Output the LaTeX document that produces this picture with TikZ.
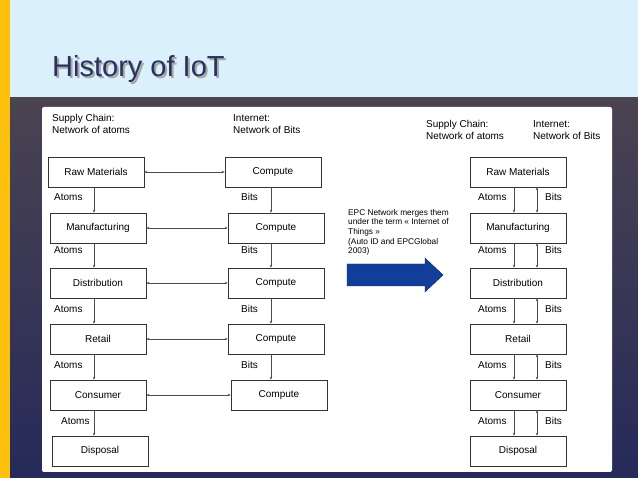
\documentclass[tikz,border=0pt]{standalone}
\usepackage{fontspec}
\setmainfont{Liberation Sans}
\usetikzlibrary{arrows.meta}
\definecolor{hdr}{HTML}{DAF1FB}
\definecolor{orng}{HTML}{FDC00C}
\definecolor{dk1}{HTML}{4A4350}
\definecolor{dk2}{HTML}{262A5A}
\definecolor{ttl}{HTML}{2A3160}
\definecolor{arr}{HTML}{123E9A}
\tikzset{
 box/.style={draw=black!80,line width=0.6pt,fill=white,minimum width=96pt,minimum height=30pt,font=\fontsize{10}{12}\selectfont,inner sep=0pt},
 lbl/.style={font=\fontsize{10}{12}\selectfont,inner sep=0pt,anchor=west},
 hd/.style={font=\fontsize{10}{12}\selectfont,inner sep=0pt,anchor=north west,align=left},
 ln/.style={draw=black!70,line width=0.5pt,-{Stealth[length=3pt,width=2.5pt]}},
 bi/.style={draw=black!70,line width=0.5pt,{Stealth[length=3pt,width=2.5pt]}-{Stealth[length=3pt,width=2.5pt]}}
}
\begin{document}
\begin{tikzpicture}[x=1pt,y=-1pt]
\useasboundingbox (0,0) rectangle (638,478);
\fill[hdr] (0,0) rectangle (638,98);
\shade[top color=dk1,bottom color=dk2] (0,98) rectangle (638,478);
\fill[orng] (0,0) rectangle (10,478);
\node (title)[anchor=west,font=\fontsize{29}{32}\selectfont,text=ttl,inner sep=0] at (52,70)
 {\rlap{\hspace{2pt}\raisebox{-2pt}{\textcolor{gray!70}{History of IoT}}}History of IoT};
\fill[white,rounded corners=2pt] (42,107) rectangle (612,472);
% headers
\node (h1)[hd] at (52,114) {Supply Chain:\\Network of atoms};
\node (h2)[hd] at (233,114) {Internet:\\Network of Bits};
\node (h3)[hd] at (426,120) {Supply Chain:\\Network of atoms};
\node (h4)[hd] at (533,120) {Internet:\\Network of Bits};
% left column
\node (a1)[box] at (96,172) {Raw Materials};
\node (a2)[box] at (98,228) {Manufacturing};
\node (a3)[box] at (98,283) {Distribution};
\node (a4)[box] at (98,339) {Retail};
\node (a5)[box] at (98,395) {Consumer};
\node (a6)[box] at (100,451) {Disposal};
\node (c1)[box] at (273,172) {Compute};
\node (c2)[box] at (276,228) {Compute};
\node (c3)[box] at (276,283) {Compute};
\node (c4)[box] at (276,339) {Compute};
\node (c5)[box] at (279,395) {Compute};
\foreach \i in {1,...,5}{\draw[bi] (a\i) -- (c\i);}
\foreach \i/\j in {1/2,2/3,3/4,4/5,5/6}{\draw[ln] (a\i.south -| 94,0) -- (a\j.north -| 94,0);}
\foreach \i/\j in {1/2,2/3,3/4,4/5}{\draw[ln] (c\i.south -| 271,0) -- (c\j.north -| 271,0);}
\foreach \y in {197,250,309,365}{\node[lbl] at (54,\y) {Atoms}; \node[lbl] at (241,\y) {Bits};}
\node[lbl] at (61,421) {Atoms};
% middle
\node (txt)[hd,font=\fontsize{8.3}{9.6}\selectfont] at (348,209) {EPC Network merges them\\under the term « Internet of\\Things »\\(Auto ID and EPCGlobal\\2003)};
\fill[arr,draw=arr!60!black,line width=0.4pt] (347,264) -- (425,264) -- (425,258) -- (443,275) -- (425,292) -- (425,286) -- (347,286) -- cycle;
% right column
\node (r1)[box] at (518,172) {Raw Materials};
\node (r2)[box] at (518,228) {Manufacturing};
\node (r3)[box] at (518,283) {Distribution};
\node (r4)[box] at (518,339) {Retail};
\node (r5)[box] at (518,395) {Consumer};
\node (r6)[box] at (518,451) {Disposal};
\foreach \i/\j in {1/2,2/3,3/4,4/5,5/6}{
 \draw[ln] (r\i.south -| 514,0) -- (r\j.north -| 514,0);
 \draw[bi] (r\i.south -| 537,0) -- (r\j.north -| 537,0);}
\foreach \y in {197,250,309,365,421}{\node[lbl] at (478,\y) {Atoms}; \node[lbl] at (545,\y) {Bits};}
\end{tikzpicture}
\end{document}
